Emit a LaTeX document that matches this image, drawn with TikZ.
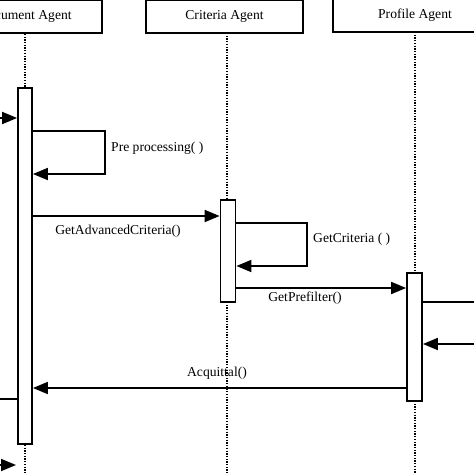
\documentclass[tikz,border=0pt]{standalone}
\usepackage{fontspec}
\setmainfont{Liberation Serif}
\usetikzlibrary{arrows.meta}
\begin{document}
\begin{tikzpicture}[x=1pt,y=-1pt,
  font=\fontsize{13.6}{16}\selectfont,
  header/.style={draw,line width=1.8pt,fill=white,inner sep=0pt,anchor=center},
  bar/.style={draw,line width=1.8pt,fill=white,inner sep=0pt,minimum width=14pt},
  life/.style={line width=1.6pt,dash pattern=on 1.3pt off 1.4pt},
  msg/.style={line width=1.8pt,-{Triangle[length=15pt,width=12pt]}},
  plain/.style={line width=1.8pt},
  lbl/.style={inner sep=0pt}]
\useasboundingbox (0,0) rectangle (474,474);
% headers
\node[header,minimum width=154pt,minimum height=33pt] (hdoc) at (25,16.5) {Document Agent};
\node[header,minimum width=157pt,minimum height=33pt] (hcrit) at (224.5,16.5) {Criteria Agent};
\node[header,minimum width=164pt,minimum height=34pt] (hprof) at (415,15) {Profile Agent};
% activation bars
\node[bar,minimum height=356pt] (bdoc) at (25,266) {};
\node[bar,minimum width=15pt,minimum height=102pt] (bcrit) at (228,251) {};
\node[bar,minimum width=15pt,minimum height=128pt] (bprof) at (414.5,337) {};
% bottom coordinates
\coordinate (edoc) at (25,474);
\coordinate (ecrit) at (227,474);
\coordinate (eprof) at (415,474);
% lifelines
\draw[life] (hdoc.south -| bdoc.north) -- (bdoc.north);
\draw[life] (bdoc.south) -- (edoc);
\draw[life] (227,33) -- (227,200);
\draw[life] (227,302) -- (ecrit);
\draw[life] (415,32) -- (bprof.north -| 415,0);
\draw[life] (415,401) -- (eprof);
% redraw bars above lifelines
\node[bar,minimum height=356pt] at (25,266) {};
\node[bar,minimum width=15pt,minimum height=128pt] at (414.5,337) {};
\node[bar,minimum width=15pt,minimum height=102pt] at (228,251) {};
% incoming from left
\coordinate (lin) at (0,118);
\draw[msg] (lin) -- (bdoc.west |- lin);
% Pre processing self loop
\coordinate (p1) at (105,131);
\coordinate (p2) at (105,174);
\draw[msg] (bdoc.east |- p1) -- (p1) -- (p2) -- (bdoc.east |- p2);
\node[lbl,anchor=west] (lpre) at (111,148) {Pre processing( )};
% GetAdvancedCriteria
\coordinate (g1) at (0,216);
\draw[msg] (bdoc.east |- g1) -- (bcrit.west |- g1);
\node[lbl] (lgac) at (118,231) {GetAdvancedCriteria()};
% GetCriteria self loop
\coordinate (c1) at (307,223);
\coordinate (c2) at (307,266);
\draw[msg] (bcrit.east |- c1) -- (c1) -- (c2) -- (bcrit.east |- c2);
\node[lbl,anchor=west] (lgc) at (313,239) {GetCriteria ( )};
% GetPrefilter
\coordinate (f1) at (0,288);
\draw[msg] (bcrit.east |- f1) -- (bprof.west |- f1);
\node[lbl] (lgp) at (305,298) {GetPrefilter()};
% profile outgoing / incoming
\coordinate (o1) at (474,302);
\draw[plain] (bprof.east |- o1) -- (o1);
\coordinate (o2) at (474,344);
\draw[msg] (o2) -- (bprof.east |- o2);
% Acquittal
\coordinate (a1) at (0,388);
\draw[msg] (bprof.west |- a1) -- (bdoc.east |- a1);
\node[lbl] (lacq) at (217,373) {Acquittal()};
% left bottom
\coordinate (l2) at (0,399);
\draw[plain] (l2) -- (bdoc.west |- l2);
\coordinate (l3) at (0,465);
\coordinate (l3t) at (16,465);
\draw[msg] (l3) -- (l3t);
\end{tikzpicture}
\end{document}
